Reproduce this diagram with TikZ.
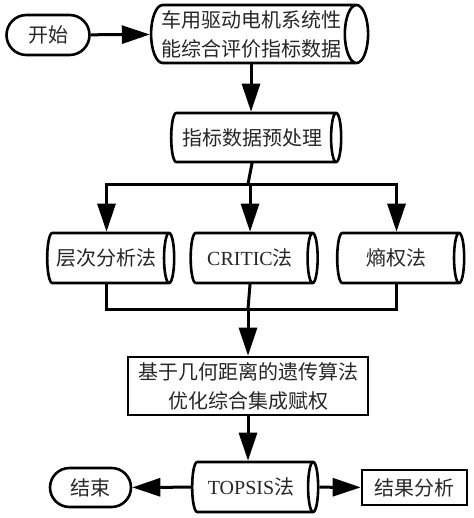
\documentclass[tikz,border=0pt]{standalone}
\usepackage{fontspec}
\setmainfont{Liberation Serif}
\newfontfamily\zh{Noto Sans CJK SC}
\usetikzlibrary{shapes.geometric, shapes.misc, arrows.meta}

\tikzset{
	box/.style = {draw, line width=1.3pt, text=black!85, align=center, inner sep=1pt},
	drum/.style = {box, cylinder, shape aspect=0.45},
	term/.style = {box, rounded rectangle},
	line/.style = {line width=1.5pt, line cap=rect},
	arr/.style = {line width=1.5pt, -{Triangle[length=14pt, width=9pt]}},
}

\begin{document}
\begin{tikzpicture}[x=0.5pt, y=-0.5pt, font=\zh\fontsize{10}{14.5}\selectfont]
			\useasboundingbox (0,0) rectangle (474,518);
			\def\mid{248};
			
			\node[term, minimum width=43.5pt, minimum height=20pt] (start) at (48,35) {开始};
			\node[drum, minimum height=108.5pt, minimum width=29pt] (data) at (251,34) {车用驱动电机系统性\\能综合评价指标数据};
			\node[drum, minimum height=85pt, minimum width=24.5pt] (prep) at (252,137.5) {指标数据预处理};
			
			\begin{scope}[every node/.style={drum, minimum height=63.5pt, minimum width=25pt}]
				\node (ahp) at (106.5,258) {层次分析法};
				\node (critic) at (250,258) {{\rmfamily CRITIC}法};
				\node (ent) at (396.5,258) {熵权法};
			\end{scope}
			
			\node[box, minimum width=120pt, minimum height=29pt] (opt) at (\mid,386) {基于几何距离的遗传算法\\优化综合集成赋权};
			\node[drum, minimum height=63pt, minimum width=25pt] (topsis) at (251,487) {{\rmfamily TOPSIS}法};
			\node[term, minimum width=42.5pt, minimum height=19.5pt] (finish) at (90.5,487.5) {结束};
			\node[box, minimum width=52.5pt, minimum height=17.5pt] (result) at (414.5,487.5) {结果分析};
			
			\coordinate (split) at (\mid,184);
			\coordinate (merge) at (\mid,309);
			
			\begin{scope}[line]
				\draw (prep.south) -- (split);
				\draw (split -| ahp.north) -- (split -| ent.north);
				\draw (ahp.south) -- (merge -| ahp.south) -- (merge -| ent.south) -- (ent.south);
				\draw (critic.south) -- (merge);
			\end{scope}
			
			\begin{scope}[arr]
				\draw (start) -- (data);
				\draw (data.south) -- (data.south |- prep.north);
				\foreach \n in {ahp, critic, ent}
					\draw (split -| \n.north) -- (\n.north);
				\draw (merge) -- (opt.north);
				\draw (opt.south) -- (opt.south |- topsis.north);
				\draw (topsis) -- (finish);
				\draw (topsis) -- (result);
			\end{scope}
		\end{tikzpicture}
\end{document}
